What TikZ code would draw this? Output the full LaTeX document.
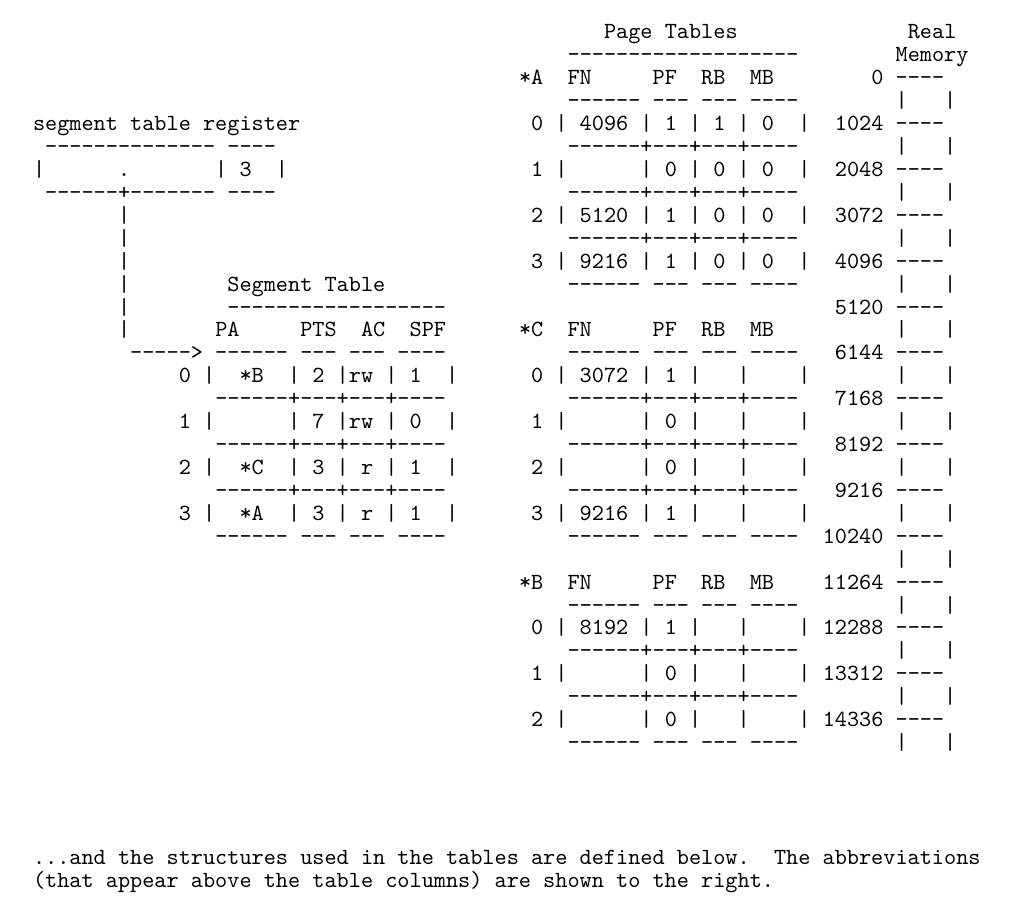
\documentclass[tikz,border=0pt]{standalone}
\usepackage{fontspec}
\setmonofont{lmmono10-regular.otf}
\newcommand\T[4]{\node[txt] (#1) at ({16.5pt+#2*6.075pt},{-19.5pt-#3*11.46pt}) {#4};}
\newcommand\TR[4]{\node[txt,anchor=base east] (#1) at ({16.5pt+#2*6.075pt},{-19.5pt-#3*11.46pt}) {#4};}
\begin{document}
\begin{tikzpicture}[txt/.style={anchor=base west,inner sep=0pt,outer sep=0pt,font=\ttfamily\fontsize{11.57pt}{11.57pt}\selectfont}]
\useasboundingbox (0,0) rectangle (512pt,-454.5pt);
\fill[white] (0,0) rectangle (512pt,-454.5pt);
% segment table register
\T{l4}{0}{4}{segment~table~register}
\T{l5}{1}{5}{--------------~----}
\T{l6}{0}{6}{|~~~~~~.~~~~~~~|~3~~|}
\T{l7}{1}{7}{------+-------~----}
\T{v8}{7}{8}{|}
\T{v9}{7}{9}{|}
\T{v10}{7}{10}{|}
\T{v11}{7}{11}{|}
\T{v12}{7}{12}{|}
\T{v13}{7}{13}{|}
% segment table
\T{st}{16}{11}{Segment~Table}
\T{st1}{16}{12}{------------------}
\T{sth}{15}{13}{PA~~~~~PTS~~AC~~SPF}
\T{arr}{8}{14}{----->~------~---~---~----}
\T{s0}{12}{15}{0~|~~*B~~|~2~|rw~|~1~~|}
\T{ss1}{15}{16}{------+---+---+----}
\T{s1}{12}{17}{1~|~~~~~~|~7~|rw~|~0~~|}
\T{ss2}{15}{18}{------+---+---+----}
\T{s2}{12}{19}{2~|~~*C~~|~3~|~r~|~1~~|}
\T{ss3}{15}{20}{------+---+---+----}
\T{s3}{12}{21}{3~|~~*A~~|~3~|~r~|~1~~|}
\T{ss4}{15}{22}{------~---~---~----}
% page tables
\T{pt}{47}{0}{Page~Tables}
\T{pt1}{44}{1}{-------------------}
\T{ah}{40}{2}{*A~~FN~~~~~PF~~RB~~MB}
\T{ad}{44}{3}{------~---~---~----}
\T{a0}{41}{4}{0~|~4096~|~1~|~1~|~0~~|}
\T{as1}{44}{5}{------+---+---+----}
\T{a1}{41}{6}{1~|~~~~~~|~0~|~0~|~0~~|}
\T{as2}{44}{7}{------+---+---+----}
\T{a2}{41}{8}{2~|~5120~|~1~|~0~|~0~~|}
\T{as3}{44}{9}{------+---+---+----}
\T{a3}{41}{10}{3~|~9216~|~1~|~0~|~0~~|}
\T{ae}{44}{11}{------~---~---~----}
\T{ch}{40}{13}{*C~~FN~~~~~PF~~RB~~MB}
\T{cd}{44}{14}{------~---~---~----}
\T{c0}{41}{15}{0~|~3072~|~1~|~~~|~~~~|}
\T{cs1}{44}{16}{------+---+---+----}
\T{c1}{41}{17}{1~|~~~~~~|~0~|~~~|~~~~|}
\T{cs2}{44}{18}{------+---+---+----}
\T{c2}{41}{19}{2~|~~~~~~|~0~|~~~|~~~~|}
\T{cs3}{44}{20}{------+---+---+----}
\T{c3}{41}{21}{3~|~9216~|~1~|~~~|~~~~|}
\T{ce}{44}{22}{------~---~---~----}
\T{bh}{40}{24}{*B~~FN~~~~~PF~~RB~~MB}
\T{bd}{44}{25}{------~---~---~----}
\T{b0}{41}{26}{0~|~8192~|~1~|~~~|~~~~|}
\T{bs1}{44}{27}{------+---+---+----}
\T{b1}{41}{28}{1~|~~~~~~|~0~|~~~|~~~~|}
\T{bs2}{44}{29}{------+---+---+----}
\T{b2}{41}{30}{2~|~~~~~~|~0~|~~~|~~~~|}
\T{be}{44}{31}{------~---~---~----}
% real memory
\T{rm}{72}{0}{Real}
\T{rm1}{71}{1}{Memory}
\foreach \v [count=\k from 0] in {0,1024,2048,3072,4096,5120,6144,7168,8192,9216,10240,11264,12288,13312,14336}{
  \pgfmathtruncatemacro\rr{2+2*\k}
  \TR{m\k}{70}{\rr}{\v}
  \T{d\k}{71}{\rr}{----}
  \pgfmathtruncatemacro\rb{3+2*\k}
  \T{bar\k}{71}{\rb}{|~~~|}
}
% caption
\T{t1}{0}{36}{...and~the~structures~used~in~the~tables~are~defined~below.~~The~abbreviations}
\T{t2}{0}{37}{(that~appear~above~the~table~columns)~are~shown~to~the~right.}
\end{tikzpicture}
\end{document}
